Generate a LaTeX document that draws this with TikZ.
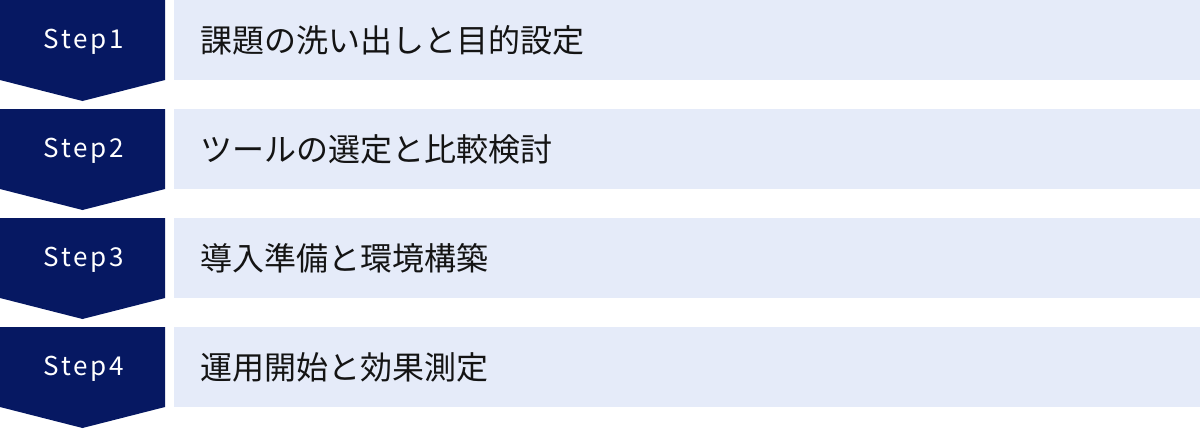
\documentclass[tikz,border=0pt]{standalone}
\usepackage{fontspec}
\newfontfamily\cjk{Noto Sans CJK JP}
\newfontfamily\stepfont[LetterSpace=11]{Noto Sans CJK JP}
\definecolor{navy}{RGB}{6,24,98}
\definecolor{rowbg}{RGB}{229,235,249}
\definecolor{txt}{RGB}{20,20,20}
\tikzset{
  steplabel/.style={text=white, font=\stepfont\fontsize{26}{26}\selectfont, inner sep=0pt, anchor=base},
  rowlabel/.style={text=txt, font=\cjk\fontsize{32}{32}\selectfont, inner sep=0pt, anchor=west},
}
\begin{document}
\begin{tikzpicture}[x=1pt,y=-1pt]
\useasboundingbox (0,0) rectangle (1200,429);
\foreach \i/\t in {0/課題の洗い出しと目的設定,1/ツールの選定と比較検討,2/導入準備と環境構築,3/運用開始と効果測定}{
  \pgfmathsetmacro{\top}{\i*109}
  \fill[navy] (0,\top) -- (165,\top) -- (165,\top+80) -- (82.5,\top+101) -- (0,\top+80) -- cycle;
  \fill[rowbg] (174,\top) rectangle (1200,\top+80);
  \pgfmathtruncatemacro{\n}{\i+1}
  \node[steplabel] (step\n) at (84,\top+48.5) {Step\n};
  \node[rowlabel] (row\n) at (200,\top+40) {\t};
}
\end{tikzpicture}
\end{document}
